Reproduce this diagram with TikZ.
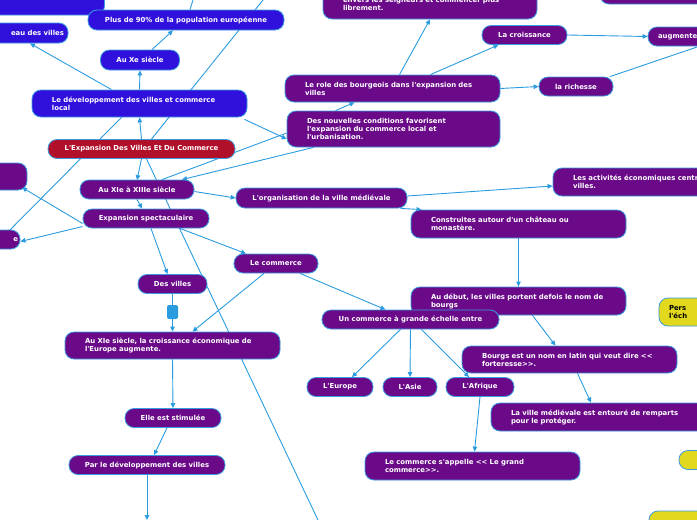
\documentclass[tikz,border=0pt]{standalone}
\usepackage{fontspec}
\newfontfamily\bfont{DejaVu Sans Bold}
\usetikzlibrary{arrows.meta,backgrounds}
\definecolor{blu}{HTML}{3010DD}
\definecolor{pur}{HTML}{6A0A88}
\definecolor{redd}{HTML}{B0102A}
\definecolor{yel}{HTML}{E2D81E}
\definecolor{bord}{HTML}{3A9BE0}
\definecolor{lin}{HTML}{2A9BDF}
\tikzset{
  base/.style={rounded corners=9pt,draw=bord,line width=0.8pt,text=white,font=\bfont\fontsize{6.9}{8}\selectfont,inner sep=0pt,align=left},
  bb/.style={base,fill=blu},
  pp/.style={base,fill=pur},
  rr/.style={base,fill=redd},
  yy/.style={base,fill=yel,text=black},
  con/.style={lin,line width=0.9pt},
  arr/.style={con,-{Triangle[length=5pt,width=4.5pt]}},
}
\begin{document}
\begin{tikzpicture}[x=1pt,y=-1pt]
\useasboundingbox (0,0) rectangle (697,520);
% blue
\node[bb,minimum width=125,minimum height=30] (tl) at (42,0) {};
\node[bb,minimum width=196,minimum height=20,align=center] (p90) at (186,20) {Plus de 90\% de la population européenne};
\node[bb,minimum width=88,minimum height=20,text width=80,align=right] (eau) at (24,33) {eau des villes};
\node[bb,minimum width=79,minimum height=20,align=center] (xe) at (140,60) {Au Xe siècle};
\node[bb,minimum width=215,minimum height=27,text width=175] (dev) at (139.5,103.5) {Le développement des villes et commerce\\local};
\node[rr,minimum width=187,minimum height=19,align=center] (root) at (141.5,149) {L'Expansion Des Villes Et Du Commerce};
% purple left
\node[pp,minimum width=50,minimum height=27] (lp) at (2,176.5) {};
\node[pp,minimum width=114,minimum height=19,align=center] (xi13) at (137,189.5) {Au XIe à XIIIe siècle};
\node[pp,minimum width=126,minimum height=19,align=center] (exp) at (146,218.5) {Expansion spectaculaire};
\node[pp,minimum width=44,minimum height=19,text width=40,align=right] (le) at (-2,239.5) {e};
% right upper
\node[pp,minimum width=214,minimum height=30,text width=174] (top) at (430,4) {envers les seigneurs et commencer plus\\librement.};
\node[pp,minimum width=110,minimum height=16] (tr) at (655,-4) {};
\node[pp,minimum width=215,minimum height=27,text width=175] (role) at (392.5,88.5) {Le role des bourgeois dans l'expansion des\\villes};
\node[pp,minimum width=213,minimum height=36,text width=173] (cond) at (393.5,129) {Des nouvelles conditions favorisent\\l'expansion du commerce local et\\l'urbanisation.};
\node[pp,minimum width=85,minimum height=19,align=center] (cro) at (524.5,35) {La croissance};
\node[pp,minimum width=80,minimum height=19,text width=60] (aug) at (688,36.5) {augmente};
\node[pp,minimum width=74,minimum height=19,align=center] (ric) at (576,86.5) {la richesse};
\node[pp,minimum width=171,minimum height=20,align=center] (org) at (321.5,198) {L'organisation de la ville médiévale};
\node[pp,minimum width=170,minimum height=28,text width=130] (act) at (638,182) {\mbox{Les activités économiques centrées}\\villes.};
\node[pp,minimum width=215,minimum height=28,text width=175] (cons) at (518.5,224) {Construites autour d'un château ou\\monastère.};
\node[pp,minimum width=215,minimum height=28,text width=175] (deb) at (518.5,301) {Au début, les villes portent defois le nom de\\bourgs};
\node[pp,minimum width=177,minimum height=19,align=center] (grand) at (410.5,319.5) {Un commerce à grande échelle entre};
\node[pp,minimum width=215,minimum height=27,text width=175] (bou) at (569.5,359.5) {Bourgs est un nom en latin qui veut dire <<\\forteresse>>.};
\node[pp,minimum width=66,minimum height=19,align=center] (eur) at (340,387) {L'Europe};
\node[pp,minimum width=54,minimum height=19,align=center] (asi) at (410,387) {L'Asie};
\node[pp,minimum width=68,minimum height=19,align=center] (afr) at (480,387) {L'Afrique};
\node[pp,minimum width=230,minimum height=28,text width=190] (rem) at (606,417) {La ville médiévale est entouré de remparts\\pour le protéger.};
\node[pp,minimum width=215,minimum height=28,text width=175] (gc) at (472.5,466) {Le commerce s'appelle << Le grand\\commerce>>.};
% lower left
\node[pp,minimum width=84,minimum height=19,align=center] (com) at (276,263.5) {Le commerce};
\node[pp,minimum width=69,minimum height=19,align=center] (dv) at (172.5,284) {Des villes};
\node[fill=lin,rounded corners=2pt,minimum width=11,minimum height=14,inner sep=0] (sq) at (172.5,312) {};
\node[pp,minimum width=215,minimum height=27,text width=175] (xie) at (172.5,345.5) {Au XIe siècle, la croissance économique de\\l'Europe augmente.};
\node[pp,minimum width=96,minimum height=19,align=center] (sti) at (173,418) {Elle est stimulée};
\node[pp,minimum width=156,minimum height=19,align=center] (par) at (147,465) {Par le développement des villes};
% yellow
\node[yy,minimum width=80,minimum height=28,text width=60] (y1) at (699,312) {Pers\\l'éch};
\node[yy,minimum width=40,minimum height=19] (y2) at (699,460) {};
\node[yy,minimum width=80,minimum height=20] (y3) at (689,521) {};
\coordinate (c1) at (193,0);
\coordinate (c2) at (263,0);
\coordinate (c3) at (0,240);
\coordinate (c4) at (318,520);
\coordinate (c5) at (147,520);
\coordinate (c6) at (697,47);
\begin{pgfonlayer}{background}
\draw[con] ([xshift=4pt]p90.north) -- (c1);
\draw[con] ([xshift=10pt]root.north) -- (c2);
\draw[con] ([xshift=-18pt]dev.south) -- (c3);
\draw[con] ([xshift=5pt]root.south) -- (c4);
\draw[arr] ([xshift=12pt]xe.north) -- ([xshift=-13pt]p90.south);
\draw[arr] ([xshift=-28pt]dev.north) -- ([xshift=6pt]eau.south);
\draw[arr] (dev.north) -- (xe.south);
\draw[arr] ([xshift=105pt,yshift=-2pt]dev.south) -- ([yshift=-10pt]cond.west);
\draw[arr] (root.north) -- (dev.south);
\draw[arr] (root.south) -- ([yshift=-0.5pt]xi13.north);
\draw[con] ([yshift=-4pt]cond.west) -- ([xshift=25pt]xi13.north);
\draw[arr] ([xshift=-80pt]cond.south) -- ([xshift=45pt]xi13.north);
\draw[arr] ([xshift=-58pt]cond.north) -- ([xshift=-38pt]role.south);
\draw[arr] ([xshift=7pt]role.north) -- (top.south);
\draw[arr] ([xshift=38pt]role.north) -- ([xshift=-26pt]cro.south);
\draw[arr] (role.east) -- (ric.west);
\draw[arr] (cro.east) -- (aug.west);
\draw[con] ([xshift=34pt]ric.north) -- (c6);
\draw[arr] ([yshift=-2pt]xi13.east) -- (org.west);
\draw[arr] (xi13.south) -- ([xshift=-4pt]exp.north);
\draw[arr] ([yshift=-5pt]exp.west) -- ([xshift=20pt,yshift=3pt]lp.south);
\draw[arr] ([yshift=-8pt]exp.west) -- ([yshift=-2pt]le.east);
\draw[arr] ([yshift=2pt]org.east) -- ([yshift=-4pt]act.west);
\draw[arr] ([xshift=79pt]org.south) -- ([xshift=-97pt]cons.north);
\draw[arr] (cons.south) -- (deb.north);
\draw[arr] ([xshift=14pt]deb.south) -- ([xshift=-14pt]bou.north);
\draw[arr] ([xshift=8pt]bou.south) -- ([xshift=-15pt]rem.north);
\draw[arr] ([xshift=5pt]exp.south) -- ([xshift=-5pt]dv.north);
\draw[arr] ([xshift=34pt]exp.south) -- ([xshift=-30pt]com.north);
\draw[arr] ([xshift=24pt]com.south) -- ([xshift=-25pt]grand.north);
\draw[arr] ([xshift=-12pt]com.south) -- ([xshift=20pt]xie.north);
\draw[con] (dv.south) -- (sq.north);
\draw[arr] (sq.south) -- (xie.north);
\draw[arr] ([xshift=-10pt]grand.south) -- ([xshift=12pt]eur.north);
\draw[arr] (grand.south) -- (asi.north);
\draw[arr] ([xshift=11pt]grand.south) -- ([xshift=-11pt]afr.north);
\draw[arr] (afr.south) -- ([xshift=2pt]gc.north);
\draw[arr] (xie.south) -- (sti.south |- sti.north);
\draw[arr] ([xshift=-6pt]sti.south) -- ([xshift=7pt]par.north);
\draw[arr] (par.south) -- (c5);
\end{pgfonlayer}
\end{tikzpicture}
\end{document}
